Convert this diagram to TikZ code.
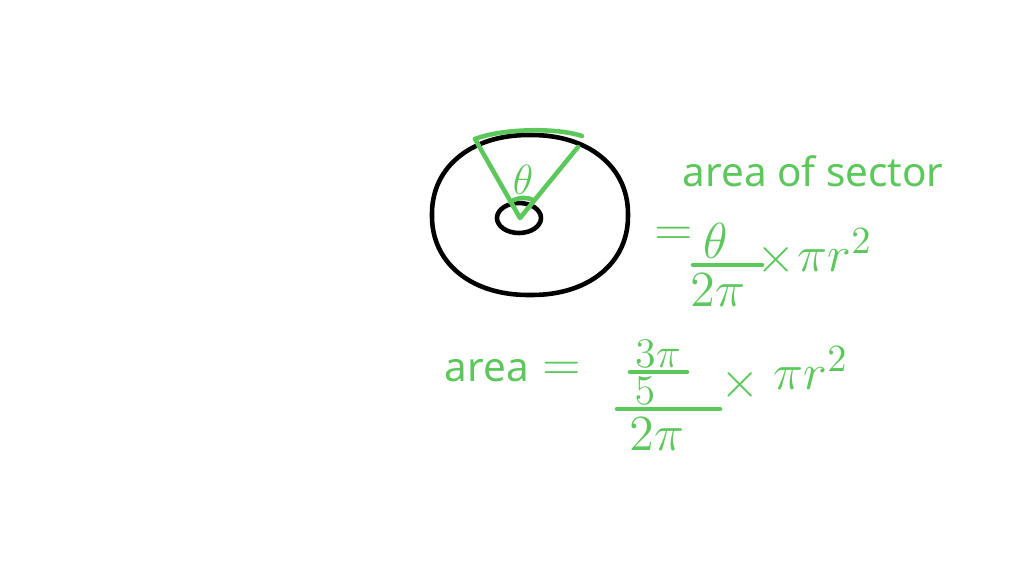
\documentclass[tikz,border=0pt]{standalone}
\usepackage{fontspec}
\setmainfont{Noto Sans}
\usepackage{amsmath}
\usetikzlibrary{calc}
\definecolor{craie}{RGB}{92,200,92}

\begin{document}
\begin{tikzpicture}[scale=1,
    trait/.style={line width=1.3pt,line cap=round,line join=round},
    vert/.style={trait,craie},
    texte/.style={craie,inner sep=0pt,font=\fontsize{15}{17}\selectfont},
    petit/.style={texte,font=\fontsize{11.5}{13}\selectfont}]
			          %\draw[help lines] (0,0) grid (10.24,5.76);
			          \useasboundingbox (0,0) rectangle (10.24,5.76);
			          %CERCLES
			          \coordinate (C) at (5.30,3.61);
			          \coordinate (c) at (5.19,3.58);
			          \draw[trait] plot[domain=0:360,samples=120,smooth cycle]
			            ({5.30+0.98*sign(cos(\x))*pow(abs(cos(\x)),0.92)},{3.61+0.80*sign(sin(\x))*pow(abs(sin(\x)),0.92)});
			          \draw[trait] (c) ellipse [x radius=0.22,y radius=0.15];
				  %SECTEUR
				  \coordinate (O) at (5.20,3.58);
				  \coordinate (A) at (4.75,4.37);
				  \coordinate (B) at (5.78,4.29);
				  \draw[vert] (A) -- (O) -- (B);
				  \draw[vert] (A) .. controls (5.00,4.47) and (5.55,4.49) .. (5.82,4.40);
				  \draw[vert] (5.10,3.74) .. controls (5.18,3.79) and (5.27,3.79) .. (5.33,3.76);
				  \node[petit] (theta) at (5.23,3.96) {$\theta$};
				  %AIRE DU SECTEUR
				  \node[petit] (titre) at (8.13,4.05) {area of sector};
				  \node[texte] (eg1) at (6.74,3.40) {$=$};
				  \node[texte,anchor=south] (num1) at (7.16,3.17) {$\theta$};
				  \node[texte,anchor=north] (den1) at (7.18,3.03) {$2\pi$};
				  \draw[vert] (6.93,3.11) -- (7.62,3.11);
				  \node[texte] (fois1) at (7.76,3.16) {$\times$};
				  \node[texte] (pr1) at (8.35,3.26) {$\pi r^{2}$};
				  %APPLICATION
				  \node[petit] (aire) at (4.87,2.05) {area};
				  \node[texte] (eg2) at (5.62,2.05) {$=$};
				  \node[petit,anchor=south] (num2) at (6.58,2.08) {$3\pi$};
				  \draw[vert] (6.30,2.04) -- (6.87,2.04);
				  \node[petit,anchor=north] (cinq) at (6.45,1.99) {$5$};
				  \draw[vert] (6.17,1.67) -- (7.20,1.67);
				  \node[texte,anchor=north] (den2) at (6.57,1.59) {$2\pi$};
				  \node[texte] (fois2) at (7.40,1.91) {$\times$};
				  \node[texte] (pr2) at (8.11,2.08) {$\pi r^{2}$};
				  \end{tikzpicture}
\end{document}
